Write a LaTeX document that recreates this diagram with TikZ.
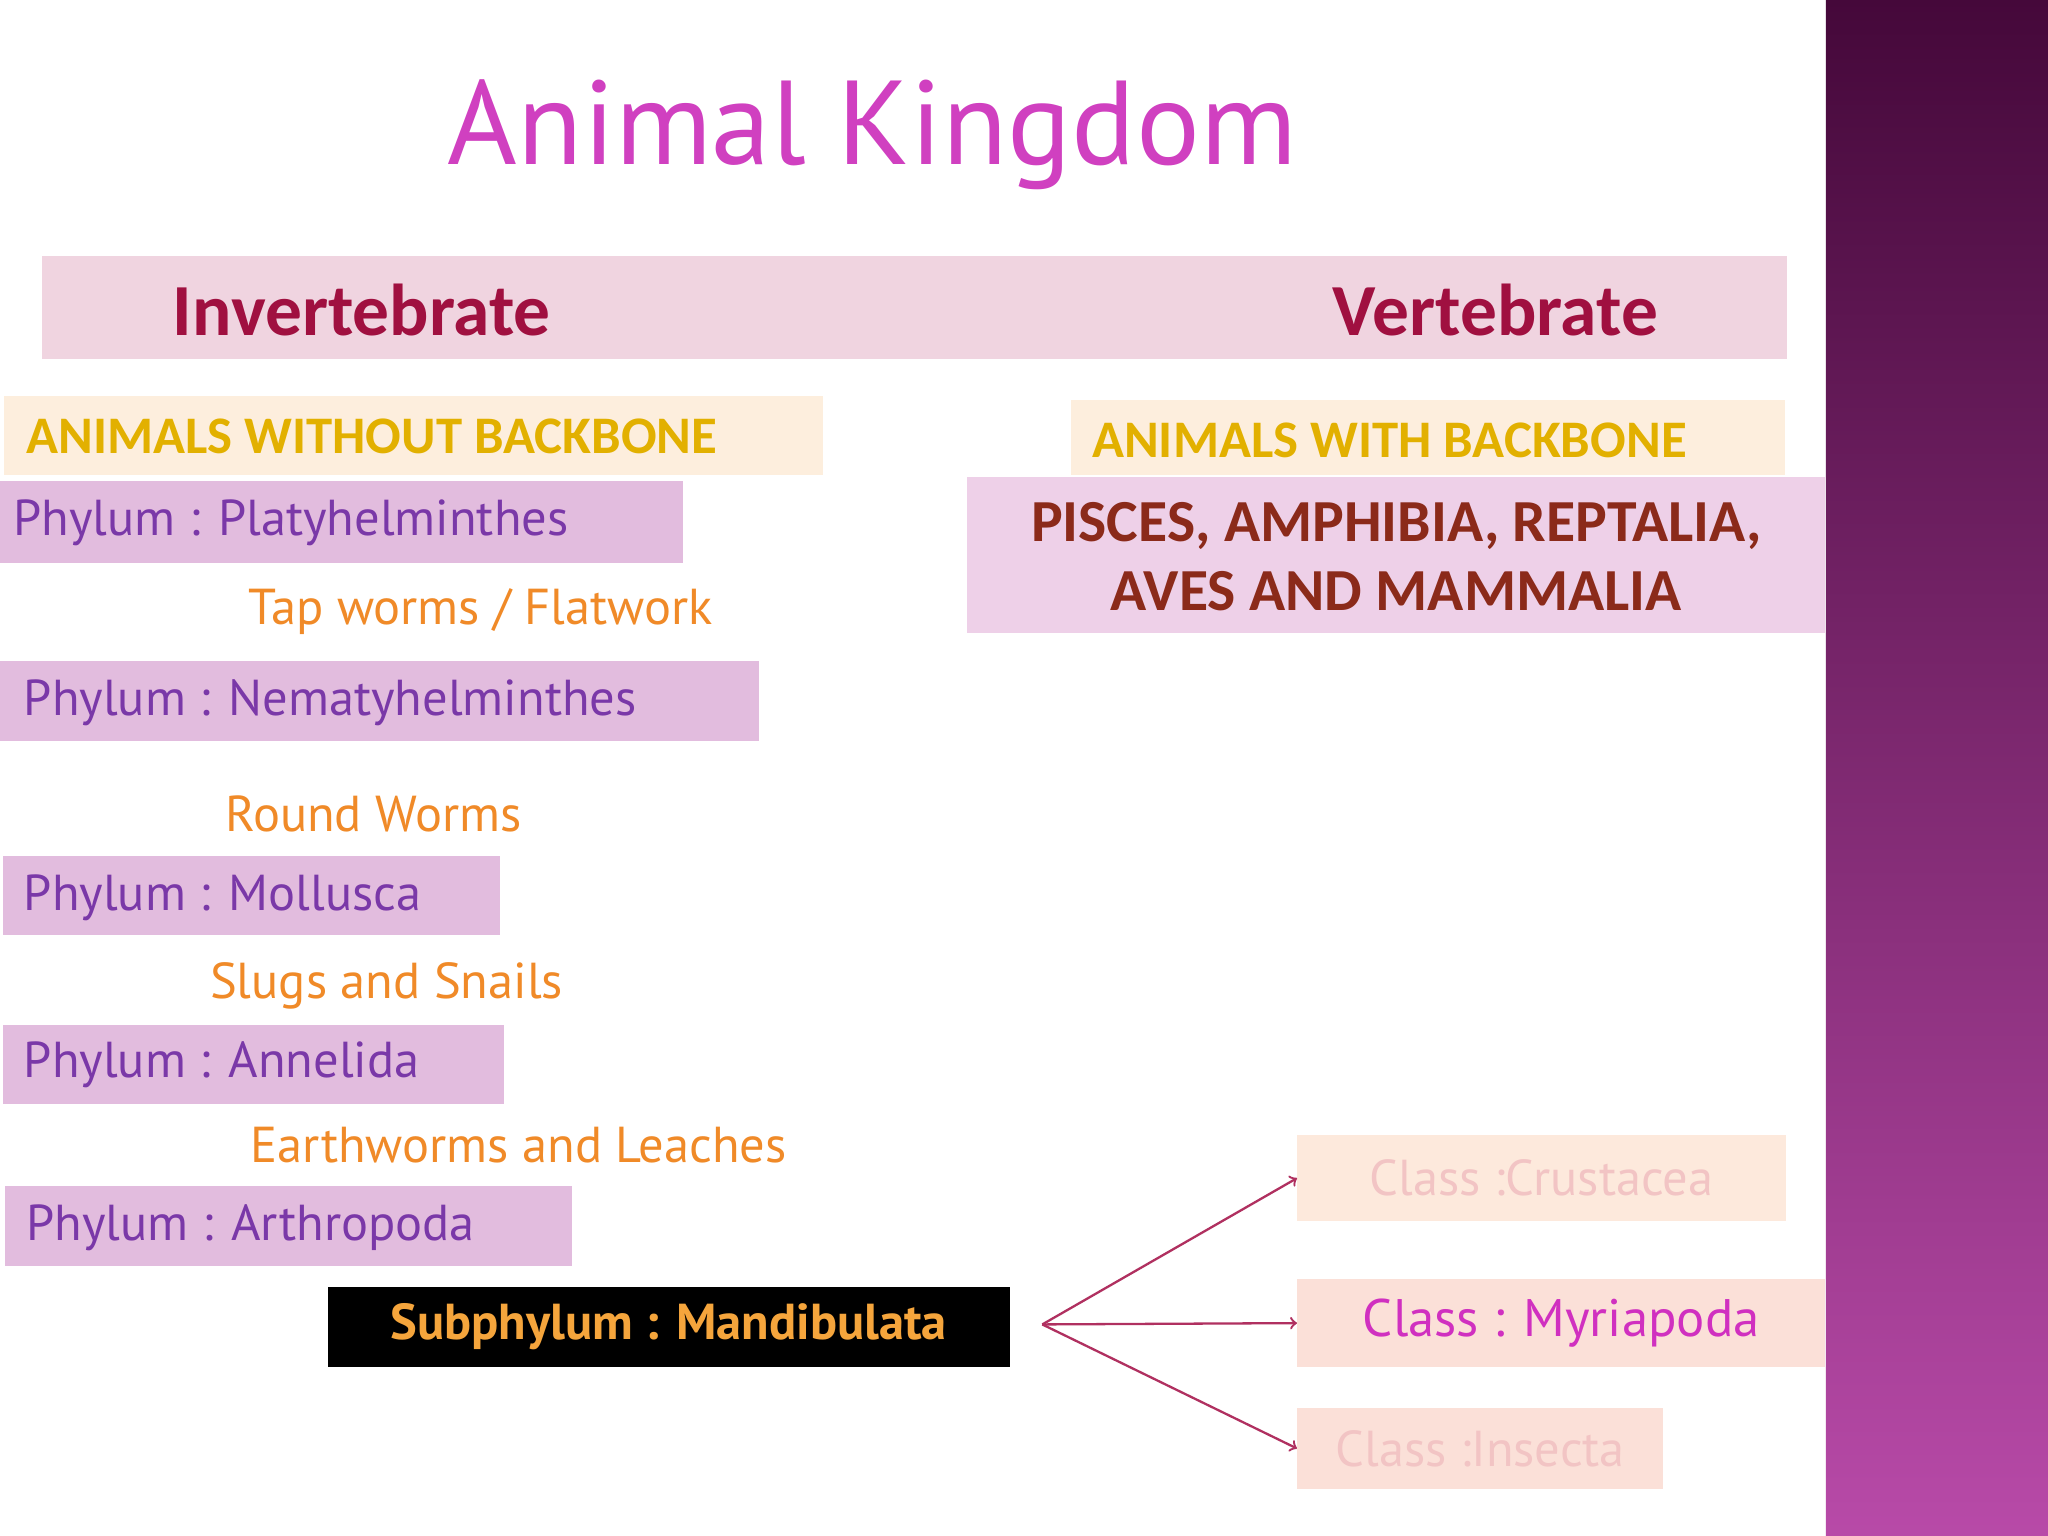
\documentclass[tikz,border=0pt]{standalone}
\usepackage{fontspec}
\setmainfont{PT Sans}
\newfontfamily\hd{Carlito}
\begin{document}
\begin{tikzpicture}[x=0.02cm,y=-0.02cm,
 phy/.style={fill=phyfill,anchor=west},
 phytxt/.style={anchor=west,text=phytext,font=\fontsize{22}{24}\selectfont},
 com/.style={text=comtext,font=\fontsize{22}{24}\selectfont},
 captxt/.style={text=captext,font=\hd\bfseries\fontsize{23}{26}\selectfont,anchor=west},
 arr/.style={draw=arrcol,line width=1pt,->}]
\definecolor{phyfill}{HTML}{E2BCDE}
\definecolor{phytext}{HTML}{7A38A8}
\definecolor{comtext}{HTML}{F08A28}
\definecolor{captext}{HTML}{E2B000}
\definecolor{arrcol}{HTML}{B03060}
\definecolor{bandtop}{HTML}{45083A}
\definecolor{bandbot}{HTML}{B84AA8}
\useasboundingbox (0,0) rectangle (1568,1176);
\fill[white] (0,0) rectangle (1568,1176);
\shade[top color=bandtop,bottom color=bandbot] (1398,0) rectangle (1568,1176);
\node (title) at (668,103) {\fontsize{52}{56}\selectfont\color[HTML]{D040C0}Animal Kingdom};
\fill[fill={rgb,255:red,240;green,212;blue,224}] (32,196) rectangle (1368,275);
\node (inv) at (277,237) {\hd\bfseries\fontsize{32}{34}\selectfont\color[HTML]{A01040}Invertebrate};
\node (ver) at (1145,237) {\hd\bfseries\fontsize{32}{34}\selectfont\color[HTML]{A01040}Vertebrate};
\fill[fill={rgb,255:red,253;green,238;blue,221}] (3,303) rectangle (630,364);
\node[captxt] (wo) at (14,334) {ANIMALS WITHOUT BACKBONE};
\fill[fill={rgb,255:red,253;green,238;blue,221}] (820,306) rectangle (1367,364);
\node[captxt] (wi) at (830,337) {ANIMALS WITH BACKBONE};
\fill[fill={rgb,255:red,238;green,208;blue,232}] (740,365) rectangle (1397,485);
\node[align=center,text={rgb,255:red,139;green,42;blue,26},font=\hd\bfseries\fontsize{26}{30}\selectfont] (pis) at (1069,426) {PISCES, AMPHIBIA, REPTALIA,\\AVES AND MAMMALIA};
\fill[phyfill] (0,368) rectangle (523,431);
\node[phytxt] (p1) at (4,400) {Phylum : Platyhelminthes};
\node[com] (c1) at (368,468) {Tap worms / Flatwork};
\fill[phyfill] (0,506) rectangle (581,567);
\node[phytxt] (p2) at (12,538) {Phylum : Nematyhelminthes};
\node[com] (c2) at (286,623) {Round Worms};
\fill[phyfill] (2,655) rectangle (383,716);
\node[phytxt] (p3) at (12,687) {Phylum : Mollusca};
\node[com] (c3) at (296,755) {Slugs and Snails};
\fill[phyfill] (2,785) rectangle (386,845);
\node[phytxt] (p4) at (12,815) {Phylum : Annelida};
\node[com] (c4) at (397,877) {Earthworms and Leaches};
\fill[phyfill] (4,908) rectangle (438,969);
\node[phytxt] (p5) at (14,940) {Phylum : Arthropoda};
\node[fill=black,minimum width=522*0.02cm,minimum height=61*0.02cm,text={rgb,255:red,245;green,165;blue,60},font=\fontsize{22}{24}\selectfont\bfseries] (sub) at (512,1016) {Subphylum : Mandibulata};
\coordinate (src) at (798,1014);
\node[fill={rgb,255:red,253;green,233;blue,220},minimum width=374*0.02cm,minimum height=66*0.02cm,anchor=west,text={rgb,255:red,242;green,196;blue,196},font=\fontsize{22}{24}\selectfont] (cr) at (993,902) {Class :Crustacea\hspace{1em}};
\node[fill={rgb,255:red,251;green,224;blue,216},minimum width=404*0.02cm,minimum height=67*0.02cm,anchor=west,text={rgb,255:red,208;green,48;blue,192},font=\fontsize{23}{25}\selectfont] (my) at (993,1013) {Class : Myriapoda};
\node[fill={rgb,255:red,251;green,224;blue,216},minimum width=280*0.02cm,minimum height=62*0.02cm,anchor=west,text={rgb,255:red,242;green,196;blue,196},font=\fontsize{22}{24}\selectfont] (in) at (993,1109) {Class :Insecta};
\draw[arr] (src) -- (cr.west);
\draw[arr] (src) -- (my.west);
\draw[arr] (src) -- (in.west);
\end{tikzpicture}
\end{document}
